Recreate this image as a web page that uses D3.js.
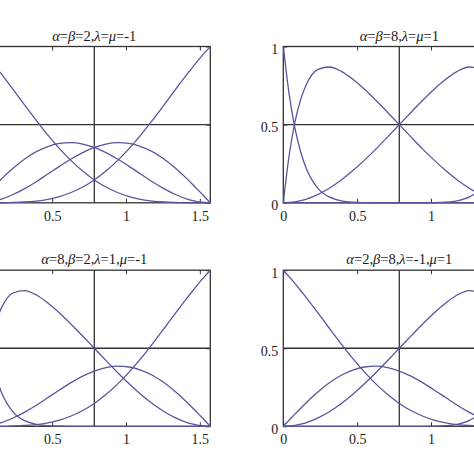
<!DOCTYPE html>
<html>
<head>
<meta charset="utf-8">
<script src="https://cdn.jsdelivr.net/npm/d3@7"></script>
<style>
  body { margin: 0; background: #fff; }
  svg { display: block; }
  .frame { fill: none; stroke: #333; stroke-width: 1.3; }
  .mid { stroke: #333; stroke-width: 1.3; }
  .curve { fill: none; stroke: #5656a0; stroke-width: 1.3; }
  .tick line { stroke: #333; stroke-width: 1; }
  .tick text { font-family: "Liberation Serif", serif; font-size: 14px; fill: #1a1a1a; }
  .title { font-family: "Liberation Serif", serif; font-size: 14.5px; fill: #1a1a1a; }
</style>
</head>
<body>
<div class="chart"></div>
<script>
"use strict"

// t values (radians) on [0, pi/2], read along the x axis
const t = [0, 0.0393, 0.0785, 0.1178, 0.1571, 0.2356, 0.3142, 0.3927, 0.4712, 0.5498,
    0.6283, 0.7069, 0.7854, 0.8639, 0.9425, 1.0210, 1.0996, 1.1781, 1.2566, 1.3352,
    1.4137, 1.4530, 1.4923, 1.5315, 1.5708];

// basis curves
const b0Soft = [1, 0.959, 0.916, 0.870, 0.823, 0.725, 0.625, 0.527, 0.433, 0.347,
    0.270, 0.203, 0.146, 0.101, 0.066, 0.040, 0.022, 0.011, 0.005, 0.002,
    0, 0, 0, 0, 0];
const b3Soft = [0, 0, 0, 0, 0, 0.002, 0.005, 0.011, 0.022, 0.040,
    0.066, 0.101, 0.146, 0.203, 0.270, 0.347, 0.433, 0.527, 0.625, 0.725,
    0.823, 0.870, 0.916, 0.959, 1];
const b1Low = [0, 0.039, 0.078, 0.116, 0.153, 0.221, 0.280, 0.327, 0.360, 0.380,
    0.385, 0.376, 0.354, 0.321, 0.280, 0.233, 0.184, 0.135, 0.091, 0.053,
    0.024, 0.014, 0.006, 0.002, 0];
const b2Low = [0, 0.002, 0.006, 0.014, 0.024, 0.053, 0.091, 0.135, 0.184, 0.233,
    0.280, 0.321, 0.354, 0.376, 0.385, 0.380, 0.360, 0.327, 0.280, 0.221,
    0.153, 0.116, 0.078, 0.039, 0];
const b0Sharp = [1, 0.697, 0.479, 0.325, 0.216, 0.091, 0.036, 0.013, 0.004, 0.001,
    0, 0, 0, 0, 0, 0, 0, 0, 0, 0,
    0, 0, 0, 0, 0];
const b3Sharp = [0, 0, 0, 0, 0, 0, 0, 0, 0, 0,
    0, 0, 0, 0, 0, 0.001, 0.004, 0.013, 0.036, 0.091,
    0.216, 0.325, 0.479, 0.697, 1];
const b1High = [0, 0.301, 0.515, 0.662, 0.759, 0.854, 0.869, 0.841, 0.790, 0.726,
    0.654, 0.578, 0.500, 0.422, 0.345, 0.273, 0.206, 0.146, 0.095, 0.054,
    0.024, 0.014, 0.006, 0.002, 0];
const b2High = [0, 0.002, 0.006, 0.014, 0.024, 0.054, 0.095, 0.146, 0.206, 0.273,
    0.345, 0.422, 0.500, 0.578, 0.654, 0.726, 0.790, 0.841, 0.869, 0.854,
    0.759, 0.662, 0.515, 0.301, 0];

const titles = ["α=β=2,λ=μ=-1", "α=β=8,λ=μ=1", "α=8,β=2,λ=1,μ=-1", "α=2,β=8,λ=-1,μ=1"];
const panelSeries = [
    [b0Soft, b1Low, b2Low, b3Soft],
    [b0Sharp, b1High, b2High, b3Sharp],
    [b0Sharp, b1High, b2Low, b3Soft],
    [b0Soft, b1Low, b2High, b3Sharp]
];
const xTicks = [0, 0.5, 1, 1.5];
const yTicks = [0, 0.5, 1];

const width = 474,
    height = 474;

// plot boxes (the picture is cropped on the left and right)
const boxes = [
    { x0: -21.7, x1: 210.3, y0: 46.5, y1: 202.8 },
    { x0: 283.3, x1: 515.3, y0: 46.5, y1: 202.8 },
    { x0: -21.7, x1: 210.3, y0: 270.2, y1: 426.3 },
    { x0: 283.3, x1: 515.3, y0: 270.2, y1: 426.3 }
];

const svg = d3.select("div.chart").append("svg")
    .attr("width", width)
    .attr("height", height);

svg.append("rect")
    .attr("width", width)
    .attr("height", height)
    .attr("fill", "#fff");

boxes.forEach((b, p) => {
    const scaleX = d3.scaleLinear().domain([0, Math.PI / 2]).range([b.x0, b.x1]);
    const scaleY = d3.scaleLinear().domain([0, 1]).range([b.y1, b.y0]);
    const g = svg.append("g").attr("class", "panel");

    // axes with inward ticks
    const bottom = g.append("g")
        .attr("transform", "translate(0," + b.y1 + ")")
        .call(d3.axisBottom(scaleX).tickValues(xTicks).tickFormat(d3.format("")).tickSizeInner(-4).tickSizeOuter(0).tickPadding(8))
        .call(s => s.select(".domain").remove());
    // labels that fall outside the cropped picture are not shown
    bottom.selectAll(".tick")
        .filter(d => scaleX(d) < 4 || scaleX(d) > width - 4)
        .select("text").remove();

    g.append("g")
        .attr("transform", "translate(0," + b.y0 + ")")
        .call(d3.axisTop(scaleX).tickValues(xTicks).tickFormat("").tickSizeInner(-4).tickSizeOuter(0))
        .call(s => s.select(".domain").remove());

    const left = g.append("g")
        .attr("transform", "translate(" + b.x0 + ",0)")
        .call(d3.axisLeft(scaleY).tickValues(yTicks).tickFormat(d3.format("")).tickSizeInner(-4).tickSizeOuter(0).tickPadding(5))
        .call(s => s.select(".domain").remove());
    left.selectAll("text").attr("dy", "0.5em");
    if (b.x0 < 20) left.selectAll("text").remove();

    g.append("g")
        .attr("transform", "translate(" + b.x1 + ",0)")
        .call(d3.axisRight(scaleY).tickValues(yTicks).tickFormat("").tickSizeInner(-4).tickSizeOuter(0))
        .call(s => s.select(".domain").remove());

    // middle cross lines
    g.append("line")
        .attr("class", "mid")
        .attr("x1", scaleX(Math.PI / 4)).attr("x2", scaleX(Math.PI / 4))
        .attr("y1", b.y0).attr("y2", b.y1);
    g.append("line")
        .attr("class", "mid")
        .attr("x1", b.x0).attr("x2", b.x1)
        .attr("y1", scaleY(0.5)).attr("y2", scaleY(0.5));

    g.append("rect")
        .attr("class", "frame")
        .attr("x", b.x0)
        .attr("y", b.y0)
        .attr("width", b.x1 - b.x0)
        .attr("height", b.y1 - b.y0);

    // title, greek letters slanted
    const title = g.append("text")
        .attr("class", "title")
        .attr("x", scaleX(Math.PI / 4))
        .attr("y", b.y0 - 6)
        .attr("text-anchor", "middle");
    Array.from(titles[p]).forEach(ch => {
        title.append("tspan")
            .style("font-style", /[α-ω]/.test(ch) ? "italic" : "normal")
            .text(ch);
    });

    const line = d3.line()
        .x((d, i) => scaleX(t[i]))
        .y(d => scaleY(d))
        .curve(d3.curveMonotoneX);

    g.selectAll("path.curve")
        .data(panelSeries[p])
        .enter().append("path")
        .attr("class", "curve")
        .attr("d", line);
});
</script>
</body>
</html>
